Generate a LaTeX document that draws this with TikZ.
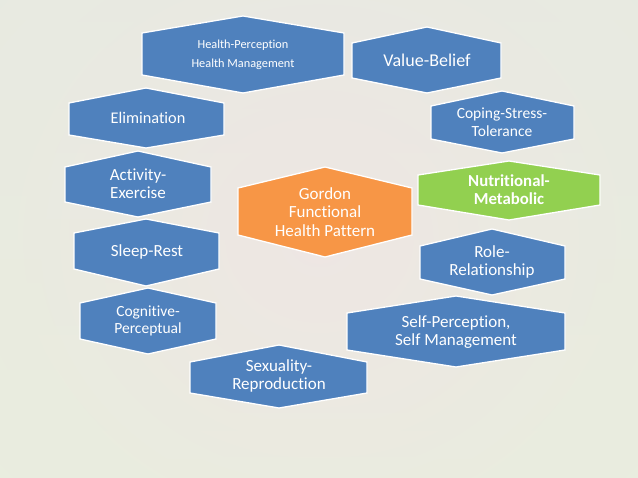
\documentclass[tikz,border=0pt]{standalone}
\usepackage{fontspec}
\setmainfont{Carlito}[Ligatures=NoCommon]
\definecolor{hexblue}{HTML}{4F81BD}
\definecolor{hexorange}{HTML}{F79646}
\definecolor{hexgreen}{HTML}{92D050}
\definecolor{bginner}{HTML}{F1E6E3}
\definecolor{bgouter}{HTML}{E9EDDF}
\definecolor{bgcorner}{HTML}{E4E2EB}
\tikzset{
  hexface/.style={draw=white, line width=1.3pt, line join=miter},
  hexlabel/.style={text=white, align=center, inner sep=0pt, font=\fontsize{17}{18.4}\selectfont},
}
\begin{document}
\begin{tikzpicture}[x=1pt, y=-1pt]
\useasboundingbox (0,0) rectangle (638,478);
% background
\fill[bgouter] (0,0) rectangle (638,478);
\shade[inner color=bginner, outer color=bgouter] (-120,-150) rectangle (758,628);
\shade[top color=bgcorner, bottom color=bgouter, opacity=0.45] (0,0) rectangle (638,478);
\shade[inner color=bginner, outer color=bgouter, opacity=0.55] (0,-60) rectangle (638,538);

% Health-Perception Health Management
\fill[hexblue, hexface] (142,33) -- (243,16) -- (344,33) -- (344,75) -- (243,93) -- (142,75) -- cycle;
\node[hexlabel, font=\fontsize{12.3}{19}\selectfont] (hp) at (243,55) {Health-Perception\\Health Management};

% Value-Belief
\fill[hexblue, hexface] (352,43) -- (427,27) -- (501,43) -- (501,78) -- (427,93) -- (352,78) -- cycle;
\node[hexlabel, font=\fontsize{18}{20}\selectfont] (vb) at (427,60) {Value-Belief};

% Elimination
\fill[hexblue, hexface] (69,103) -- (146,88) -- (224,103) -- (224,135) -- (146,148) -- (69,135) -- cycle;
\node[hexlabel, font=\fontsize{16.3}{18}\selectfont] (el) at (148,118) {Elimination};

% Activity-Exercise
\fill[hexblue, hexface] (65,167) -- (138,151) -- (211,167) -- (211,202) -- (138,217) -- (65,202) -- cycle;
\node[hexlabel] (ae) at (138,184) {Activity-\\Exercise};

% Sleep-Rest
\fill[hexblue, hexface] (74,233) -- (146,219) -- (219,233) -- (219,269) -- (146,286) -- (74,269) -- cycle;
\node[hexlabel] (sr) at (147,252) {Sleep-Rest};

% Cognitive-Perceptual
\fill[hexblue, hexface] (80,303) -- (148,288) -- (216,303) -- (216,339) -- (148,354) -- (80,339) -- cycle;
\node[hexlabel, font=\fontsize{15.5}{17}\selectfont] (cp) at (148,321) {Cognitive-\\Perceptual};

% Sexuality-Reproduction
\fill[hexblue, hexface] (190,362) -- (279,345) -- (367,362) -- (367,393) -- (279,408) -- (190,393) -- cycle;
\node[hexlabel] (sx) at (279,376) {Sexuality-\\Reproduction};

% Self-Perception, Self Management
\fill[hexblue, hexface] (347,313) -- (456,296) -- (565,313) -- (565,350) -- (456,367) -- (347,350) -- cycle;
\node[hexlabel] (sp) at (456,332) {Self-Perception,\\Self Management};

% Role-Relationship
\fill[hexblue, hexface] (420,246) -- (492,229) -- (565,246) -- (565,279) -- (492,295) -- (420,279) -- cycle;
\node[hexlabel] (rr) at (492,262) {Role-\\Relationship};

% Nutritional-Metabolic
\fill[hexgreen, hexface] (418,175) -- (509,161) -- (600,175) -- (600,205) -- (509,220) -- (418,205) -- cycle;
\node[hexlabel, font=\fontsize{16.8}{18}\bfseries\selectfont] (nm) at (509,190) {Nutritional-\\Metabolic};

% Coping-Stress-Tolerance
\fill[hexblue, hexface] (431,106) -- (502,91) -- (574,106) -- (574,139) -- (502,153) -- (431,139) -- cycle;
\node[hexlabel, font=\fontsize{15.5}{17.7}\selectfont] (cs) at (502,122) {Coping-Stress-\\Tolerance};

% Gordon Functional Health Pattern (centre)
\fill[hexorange, hexface] (238,188) -- (325,167) -- (412,188) -- (412,235) -- (325,257) -- (238,235) -- cycle;
\node[hexlabel] (gf) at (325,212) {Gordon\\Functional\\Health Pattern};
\end{tikzpicture}
\end{document}
